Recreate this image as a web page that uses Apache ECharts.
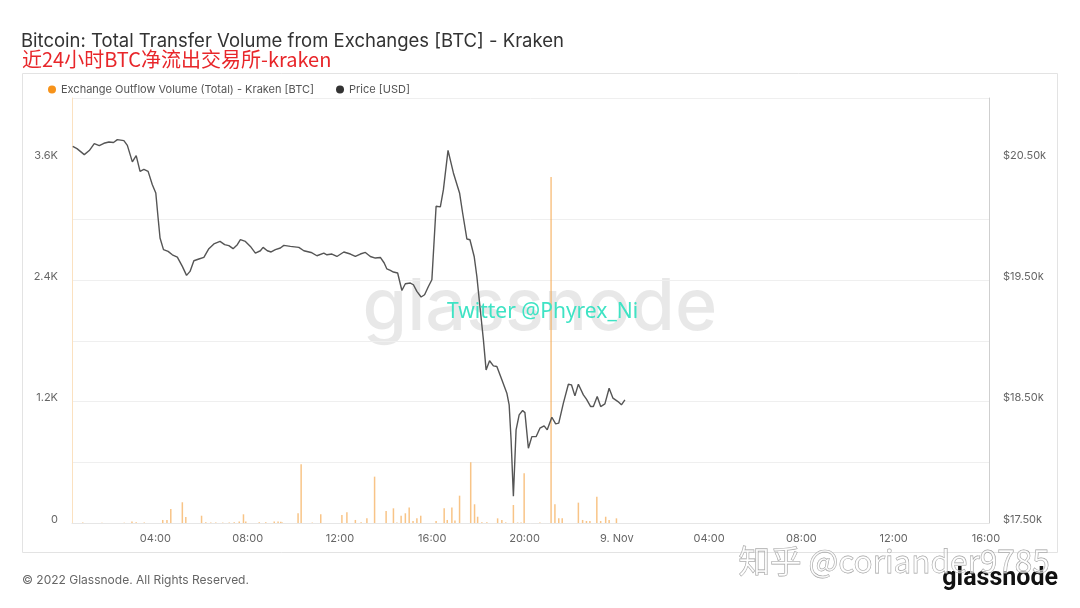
<!DOCTYPE html>
<html>
<head>
<meta charset="utf-8">
<title>Kraken outflow</title>
<script src="https://cdn.jsdelivr.net/npm/echarts@6/dist/echarts.min.js"></script>
<style>
    html, body {margin: 0; padding: 0; background: #fff;}
    #chart {width: 1080px; height: 608px;}
</style>
</head>
<body>
<div id="chart"></div>
<script>
// 时间都是 2022-11-08 00:00 (UTC) 起算的分钟数
var priceMin = [25, 36, 55, 68, 81, 94, 106, 119, 131, 141,
    158, 167, 180, 190, 200, 210, 221, 232, 241, 247,
    252, 261, 273, 284, 297, 310, 321, 330, 340, 353,
    366, 379, 392, 408, 420, 431, 442, 453, 461, 474,
    487, 500, 513, 520, 531, 541, 552, 565, 574, 591,
    613, 626, 645, 660, 678, 686, 699, 712, 730, 747,
    760, 773, 786, 799, 812, 825, 835, 842, 851, 859,
    870, 881, 890, 903, 911, 920, 931, 940, 950, 959,
    970, 981, 989, 1001, 1015, 1031, 1039, 1050, 1058, 1069,
    1076, 1084, 1093, 1100, 1109, 1119, 1128, 1141, 1154, 1160,
    1165, 1171, 1178, 1186, 1195, 1201, 1210, 1219, 1230, 1240,
    1251, 1259, 1271, 1281, 1289, 1301, 1314, 1322, 1331, 1340,
    1353, 1361, 1372, 1379, 1389, 1398, 1409, 1420, 1430, 1443,
    1452, 1461];
var priceUsd = [20602, 20583, 20534, 20567, 20624, 20608, 20627, 20638, 20633, 20657,
    20649, 20610, 20474, 20526, 20396, 20413, 20396, 20286, 20218, 20012,
    19847, 19751, 19737, 19709, 19690, 19613, 19539, 19572, 19660, 19674,
    19687, 19759, 19798, 19819, 19792, 19784, 19759, 19792, 19833, 19819,
    19778, 19723, 19742, 19770, 19742, 19732, 19751, 19765, 19786, 19778,
    19770, 19742, 19728, 19701, 19723, 19709, 19715, 19695, 19732, 19715,
    19695, 19715, 19728, 19695, 19682, 19687, 19641, 19592, 19580, 19567,
    19559, 19415, 19470, 19476, 19462, 19407, 19361, 19380, 19448, 19503,
    20108, 20103, 20245, 20569, 20383, 20218, 20053, 19839, 19833, 19695,
    19530, 19283, 19009, 18761, 18836, 18794, 18789, 18679, 18569, 18473,
    18184, 17720, 18267, 18390, 18426, 18409, 18116, 18211, 18211, 18281,
    18300, 18267, 18371, 18316, 18322, 18487, 18643, 18638, 18547, 18643,
    18555, 18520, 18459, 18459, 18541, 18459, 18481, 18610, 18528, 18500,
    18473, 18514];

var flowMin = [51, 101, 159, 179, 190, 211, 259, 270, 280, 310,
    319, 360, 371, 384, 397, 415, 432, 445, 458, 469,
    475, 510, 527, 549, 559, 566, 570, 611, 619, 648,
    670, 725, 738, 760, 775, 790, 810, 840, 859, 868,
    879, 890, 900, 910, 920, 930, 970, 991, 999, 1011,
    1019, 1031, 1060, 1070, 1078, 1089, 1102, 1130, 1141, 1151,
    1171, 1182, 1191, 1199, 1240, 1269, 1279, 1289, 1298, 1340,
    1351, 1361, 1370, 1388, 1398, 1411, 1420, 1439];
var flowBtc = [5, 3, 3, 15, 8, 5, 30, 30, 138, 205,
    59, 72, 8, 4, 4, 4, 4, 8, 15, 86,
    15, 8, 8, 15, 15, 12, 5, 96, 580, 4,
    86, 79, 106, 30, 8, 46, 458, 119, 145, 6,
    72, 96, 152, 20, 46, 72, 20, 145, 30, 152,
    25, 270, 600, 185, 62, 8, 8, 46, 30, 6,
    178, 5, 5, 492, 5, 3420, 185, 46, 46, 201,
    30, 20, 20, 260, 20, 62, 30, 46];

var base = Date.UTC(2022, 10, 8);
var startMin = 25, endMin = 2406;

var priceData = [];
for (var i = 0; i < priceMin.length; i++) {
    priceData.push([base + priceMin[i] * 60000, priceUsd[i]]);
}
var flowData = [];
for (var j = 0; j < flowMin.length; j++) {
    flowData.push([base + flowMin[j] * 60000, flowBtc[j]]);
}

var chart = echarts.init(document.getElementById('chart'));

var option = {
    useUTC: true,
    animation: false,
    backgroundColor: '#fff',
    textStyle: {fontFamily: 'Inter, "Noto Sans", sans-serif'},
    title: [
        {
            text: 'Bitcoin: Total Transfer Volume from Exchanges [BTC] - Kraken',
            left: 16, top: 27,
            textStyle: {fontSize: 18.5, fontWeight: 'normal', color: '#333'}
        },
        {
            text: '近24小时BTC净流出交易所-kraken',
            left: 17, top: 44,
            textStyle: {fontSize: 20, fontWeight: 'normal', color: '#e8262a',
                fontFamily: '"Noto Sans CJK SC", sans-serif'}
        }
    ],
    legend: {
        left: 43, top: 79,
        icon: 'circle',
        itemWidth: 8, itemHeight: 8, itemGap: 22,
        textStyle: {fontSize: 11, color: '#555'},
        data: [
            {name: 'Exchange Outflow Volume (Total) - Kraken [BTC]', itemStyle: {color: '#f7931a'}},
            {name: 'Price [USD]', itemStyle: {color: '#333'}}
        ]
    },
    grid: {left: 72, right: 91, top: 98, bottom: 85},
    xAxis: {
        type: 'time',
        min: base + startMin * 60000,
        max: base + endMin * 60000,
        minInterval: 4 * 3600 * 1000,
        maxInterval: 4 * 3600 * 1000,
        axisLine: {show: true, lineStyle: {color: '#e6e6e6'}},
        axisTick: {show: false},
        splitLine: {show: false},
        axisLabel: {
            color: '#666', fontSize: 11, margin: 10,
            formatter: function (v) {
                var d = new Date(v);
                var h = d.getUTCHours(), m = d.getUTCMinutes();
                if (h === 0 && m === 0) {
                    return d.getUTCDate() + '. Nov';
                }
                return (h < 10 ? '0' : '') + h + ':' + (m < 10 ? '0' : '') + m;
            }
        }
    },
    yAxis: [
        {
            type: 'value',
            min: 0, max: 4200, interval: 600,
            axisLine: {show: true, lineStyle: {color: '#fbe1c0'}},
            axisTick: {show: false},
            splitLine: {show: false},
            axisLabel: {
                color: '#666', fontSize: 11, margin: 14,
                verticalAlign: 'bottom', lineHeight: 7,
                formatter: function (v) {
                    if (v === 0) return '0';
                    if (v % 1200 !== 0) return '';
                    return (v / 1000).toFixed(1) + 'K';
                }
            }
        },
        {
            type: 'value',
            min: 17500, max: 21000, interval: 500,
            position: 'right',
            axisLine: {show: true, lineStyle: {color: '#cfcfcf'}},
            axisTick: {show: false},
            splitLine: {
                show: true,
                lineStyle: {color: ['#efefef', '#efefef', '#efefef', '#efefef', '#efefef', '#efefef', 'rgba(0,0,0,0)']}
            },
            axisLabel: {
                color: '#666', fontSize: 11, margin: 14,
                verticalAlign: 'bottom', lineHeight: 7,
                formatter: function (v) {
                    if ((v - 17500) % 1000 !== 0) return '';
                    return '$' + (v / 1000).toFixed(2) + 'k';
                }
            }
        }
    ],
    graphic: [
        {   // 卡片边框
            type: 'rect', z: -10, silent: true,
            shape: {x: 22.5, y: 73.5, width: 1035, height: 479},
            style: {fill: '#fff', stroke: '#e3e3e3', lineWidth: 1}
        },
        {
            type: 'text', z: -5, silent: true,
            left: 'center', top: 272,
            style: {text: 'glassnode', fontSize: 72, fill: 'rgba(0,0,0,0.09)',
                fontFamily: 'Inter, sans-serif', fontWeight: 500}
        },
        {
            type: 'text', z: 20, silent: true,
            left: 447, top: 302,
            style: {text: 'Twitter @Phyrex_Ni', fontSize: 21, fill: '#3ee3c4',
                fontFamily: '"Noto Sans", sans-serif'}
        },
        {
            type: 'text', z: 20, silent: true,
            left: 22, top: 574,
            style: {text: '© 2022 Glassnode. All Rights Reserved.', fontSize: 12, fill: '#666',
                fontFamily: 'Inter, sans-serif'}
        },
        {
            type: 'text', z: 20, silent: true,
            right: 22, top: 566,
            style: {text: 'glassnode', fontSize: 25, fill: '#111', fontWeight: 'bold',
                fontFamily: 'Roboto, sans-serif'}
        },
        {
            type: 'text', z: 21, silent: true,
            left: 738, top: 545,
            style: {text: '知乎 @coriander9785', fontSize: 31.5, fill: 'rgba(255,255,255,0.55)',
                stroke: '#9a9a9a', lineWidth: 0.8,
                fontFamily: '"Noto Sans CJK SC", sans-serif'}
        }
    ],
    series: [
        {
            name: 'Exchange Outflow Volume (Total) - Kraken [BTC]',
            type: 'bar',
            yAxisIndex: 0,
            barWidth: 1.5,
            itemStyle: {color: 'rgba(245,165,70,0.65)'},
            data: flowData
        },
        {
            name: 'Price [USD]',
            type: 'line',
            yAxisIndex: 1,
            showSymbol: false,
            lineStyle: {color: '#555', width: 1.4},
            itemStyle: {color: '#555'},
            z: 5,
            data: priceData
        }
    ]
};

chart.setOption(option);
</script>
</body>
</html>
